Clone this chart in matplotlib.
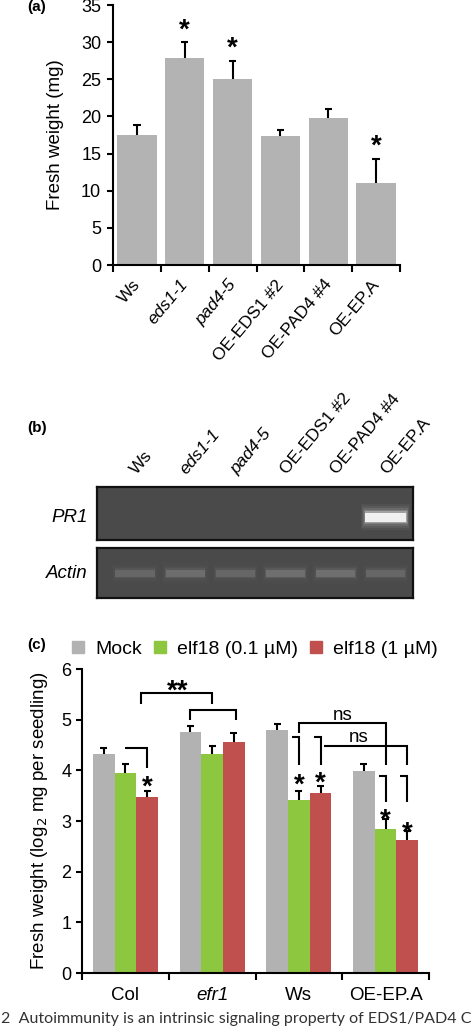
import matplotlib
matplotlib.use("Agg")
import matplotlib.pyplot as plt
import matplotlib.transforms as mtransforms
from matplotlib.lines import Line2D
from matplotlib.patches import Rectangle
import numpy as np

plt.rcParams['font.family'] = ['Liberation Sans', 'DejaVu Sans']

# ---------------- data ----------------
# (a) fresh weight
lines_a = ["Ws", "eds1-1", "pad4-5", "OE-EDS1 #2", "OE-PAD4 #4", "OE-EP.A"]
italic_a = [False, True, True, False, False, False]
fw_a = [17.5, 27.8, 25.0, 17.3, 19.8, 11.0]
fw_a_err = [1.3, 2.2, 2.5, 0.9, 1.2, 3.3]
sig_a = ["", "*", "*", "", "", "*"]
yticks_a = [0, 5, 10, 15, 20, 25, 30, 35]

# (b) RT-PCR gel (relative band intensity per lane)
gel_lanes = ["Ws", "eds1-1", "pad4-5", "OE-EDS1 #2", "OE-PAD4 #4", "OE-EP.A"]
italic_b = [False, True, True, False, False, False]
pr1_signal = [0.0, 0.0, 0.0, 0.0, 0.0, 1.0]
actin_signal = [0.12, 0.15, 0.12, 0.16, 0.16, 0.12]

# (c) elf18 growth inhibition
genotypes_c = ["Col", "efr1", "Ws", "OE-EP.A"]
italic_c = [False, True, False, False]
treatments = ["Mock", "elf18 (0.1 µM)", "elf18 (1 µM)"]
mock_c = [4.32, 4.75, 4.79, 3.98]
mock_c_err = [0.13, 0.13, 0.13, 0.14]
elf01_c = [3.94, 4.32, 3.41, 2.85]
elf01_c_err = [0.18, 0.17, 0.18, 0.18]
elf1_c = [3.47, 4.56, 3.56, 2.62]
elf1_c_err = [0.12, 0.17, 0.14, 0.18]
yticks_c = [0, 1, 2, 3, 4, 5, 6]

# ---------------- style ----------------
W, H = 474, 1029
fig = plt.figure(figsize=(W / 100, H / 100), dpi=100)
LW = 1.5
GREY_A = "#b3b3b3"
col_c = ["#b2b2b2", "#8dc63f", "#c0504d"]
TICK_FS = 13
LAB_FS = 13.5
ROT = 50


def fx(px):
    return px / W


def fy(py):
    return 1 - py / H


def shift(dx_px, dy_px):
    return mtransforms.ScaledTranslation(dx_px / 100, dy_px / 100, fig.dpi_scale_trans)


def star(ax, x, y, txt="*", fs=20):
    # y is the visual centre of the asterisk
    ax.annotate(txt, xy=(x, y), xytext=(0, -0.58 * fs), textcoords="offset points",
                ha="center", va="baseline", fontsize=fs, fontweight="bold")


# ================= panel (a) =================
ax = fig.add_axes([fx(113), fy(265), fx(287), 260 / H])
xa = np.arange(len(lines_a)) + 0.5
ax.bar(xa, fw_a, width=0.82, color=GREY_A, zorder=2)
tops = np.array(fw_a) + np.array(fw_a_err)
ax.vlines(xa, fw_a, tops, color="black", lw=LW, zorder=3)
ax.hlines(tops, xa - 0.075, xa + 0.075, color="black", lw=LW, zorder=3)
for x, t, s in zip(xa, tops, sig_a):
    if s:
        star(ax, x, t + 2.8, s)
ax.set_xlim(0, len(lines_a))
ax.set_ylim(0, 35)
ax.set_yticks(yticks_a)
ax.set_xticks(np.arange(len(lines_a) + 1))
ax.set_xticklabels([])
for sp in ["top", "right"]:
    ax.spines[sp].set_visible(False)
for sp in ["left", "bottom"]:
    ax.spines[sp].set_linewidth(LW)
ax.tick_params(axis="both", direction="out", width=LW, labelsize=TICK_FS)
ax.tick_params(axis="y", length=4.5, pad=4)
ax.tick_params(axis="x", length=5)
ax.set_ylabel("Fresh weight (mg)", fontsize=LAB_FS)
ax.yaxis.set_label_coords(-0.172, 0.5)
trans = mtransforms.blended_transform_factory(ax.transData, ax.transAxes)
for x, lab, it in zip(xa, lines_a, italic_a):
    ax.text(x, 0, lab, transform=trans + shift(-5, -12),
            rotation=ROT, rotation_mode="anchor", ha="right", va="top",
            fontsize=12.5, style="italic" if it else "normal")
fig.text(fx(27), fy(7), "(a)", fontsize=11, fontweight="bold", va="center", ha="left")

# ================= panel (b) =================
lanes = np.arange(len(gel_lanes))
gel_xlim = (-0.757, 5.54)
glow = [(0.16, 0.04), (0.12, 0.06), (0.08, 0.09), (0.05, 0.14), (0.025, 0.28), (0.0, 0.85)]
axes_b = []
for (bottom_px, h_px, signal, yc, bh, bw) in [
        (540, 53, pr1_signal, 0.43, 0.17, 0.82),
        (598, 50, actin_signal, 0.50, 0.14, 0.78)]:
    axg = fig.add_axes([fx(97), fy(bottom_px), fx(316), h_px / H])
    axg.set_facecolor("#4a4a4a")
    axg.set_xlim(*gel_xlim)
    axg.set_ylim(0, 1)
    axg.set_xticks([])
    axg.set_yticks([])
    for sp in axg.spines.values():
        sp.set_linewidth(1.6)
        sp.set_color("#111111")
    for x, s in zip(lanes, signal):
        if s <= 0:
            continue
        for k, (grow, a) in enumerate(glow):
            axg.add_patch(Rectangle((x - bw / 2 - grow * 0.5, yc - bh / 2 - grow),
                                    bw + grow, bh + 2 * grow,
                                    facecolor="white", edgecolor="none",
                                    alpha=min(1.0, a * s), zorder=2 + k))
    axes_b.append(axg)

ax_b1, ax_b2 = axes_b
ax_b1.text(-0.03, 0.43, "PR1", transform=ax_b1.transAxes, ha="right", va="center",
           fontsize=13.5, style="italic")
ax_b2.text(-0.03, 0.50, "Actin", transform=ax_b2.transAxes, ha="right", va="center",
           fontsize=13.5, style="italic")
transb = mtransforms.blended_transform_factory(ax_b1.transData, ax_b1.transAxes)
for x, lab, it in zip(lanes, gel_lanes, italic_b):
    ax_b1.text(x, 1, lab, transform=transb + shift(4, 10),
               rotation=ROT, rotation_mode="anchor", ha="left", va="bottom",
               fontsize=12.5, style="italic" if it else "normal")
fig.text(fx(27), fy(428), "(b)", fontsize=11, fontweight="bold", va="center", ha="left")

# ================= panel (c) =================
ax = fig.add_axes([fx(82), fy(973), fx(347), 304 / H])
xc = np.arange(len(genotypes_c))
offs = [-0.25, 0.0, 0.25]
bw = 0.25
series = [(mock_c, mock_c_err), (elf01_c, elf01_c_err), (elf1_c, elf1_c_err)]
for (vals, errs), off, c in zip(series, offs, col_c):
    ax.bar(xc + off, vals, width=bw, color=c, zorder=2)
    tp = np.array(vals) + np.array(errs)
    ax.vlines(xc + off, vals, tp, color="black", lw=LW, zorder=3)
    ax.hlines(tp, xc + off - 0.04, xc + off + 0.04, color="black", lw=LW, zorder=3)
ax.set_xlim(-0.5, len(genotypes_c) - 0.5)
ax.set_ylim(0, 6)
ax.set_yticks(yticks_c)
ax.set_xticks(np.arange(len(genotypes_c) + 1) - 0.5)
ax.set_xticklabels([])
for sp in ["top", "right"]:
    ax.spines[sp].set_visible(False)
for sp in ["left", "bottom"]:
    ax.spines[sp].set_linewidth(LW)
ax.tick_params(axis="both", direction="out", width=LW, labelsize=TICK_FS)
ax.tick_params(axis="y", length=4.5, pad=3)
ax.tick_params(axis="x", length=5)
ax.set_ylabel("Fresh weight (log$_2$ mg per seedling)", fontsize=LAB_FS)
ax.yaxis.set_label_coords(-0.092, 0.5)
transc = mtransforms.blended_transform_factory(ax.transData, ax.transAxes)
for x, lab, it in zip(xc, genotypes_c, italic_c):
    ax.text(x, 0, lab, transform=transc + shift(0, -22),
            ha="center", va="center", fontsize=13.5, style="italic" if it else "normal")


def P(g, s):
    return g + offs[s]


bracket_lines = [
    [(P(0, 1), 4.45), (P(0, 2), 4.45), (P(0, 2), 4.05)],
    [(0.18, 5.30), (0.18, 5.53), (P(1, 1), 5.53), (P(1, 1), 5.30)],
    [(P(1, 0), 4.99), (P(1, 0), 5.20), (1.27, 5.20), (1.27, 4.99)],
    [(1.92, 4.65), (P(2, 1), 4.65), (P(2, 1), 4.11)],
    [(2.17, 4.65), (P(2, 2), 4.65), (P(2, 2), 4.11)],
    [(P(2, 1), 4.74), (P(2, 1), 4.94), (P(3, 1), 4.94), (P(3, 1), 4.11)],
    [(2.29, 4.475), (P(3, 2), 4.475), (P(3, 2), 4.11)],
    [(2.92, 3.88), (P(3, 1), 3.88), (P(3, 1), 3.38)],
    [(3.17, 3.88), (P(3, 2), 3.88), (P(3, 2), 3.38)],
]
for pts in bracket_lines:
    xs, ys = zip(*pts)
    ax.plot(xs, ys, color="black", lw=LW, solid_joinstyle="miter", solid_capstyle="butt", zorder=4)

star(ax, P(0, 2), 3.84)
star(ax, P(2, 1), 3.88)
star(ax, P(2, 2), 3.92)
star(ax, P(3, 1), 3.19)
star(ax, P(3, 2), 2.93)
star(ax, 0.6, 5.73, "**")
ax.text(2.5, 5.0, "ns", ha="center", va="baseline", fontsize=13.5)
ax.text(2.69, 4.55, "ns", ha="center", va="baseline", fontsize=13.5)

handles = [Line2D([], [], ls="none", marker="s", markersize=8, color=c) for c in col_c]
ax.legend(handles, treatments, loc="center left", bbox_to_anchor=(-0.03, 1.065), ncol=3,
          frameon=False, fontsize=14, handlelength=0.7, handletextpad=0.5,
          columnspacing=0.6, borderpad=0, borderaxespad=0)
fig.text(fx(27), fy(645), "(c)", fontsize=11, fontweight="bold", va="center", ha="left")

# caption fragment at the bottom edge
fig.text(fx(1), fy(1023), "2  Autoimmunity is an intrinsic signaling property of EDS1/PAD4 C",
         fontsize=11.5, color="#333333", va="baseline", ha="left", family=["Lato", "DejaVu Sans"])

fig.savefig("out.png", dpi=100)
